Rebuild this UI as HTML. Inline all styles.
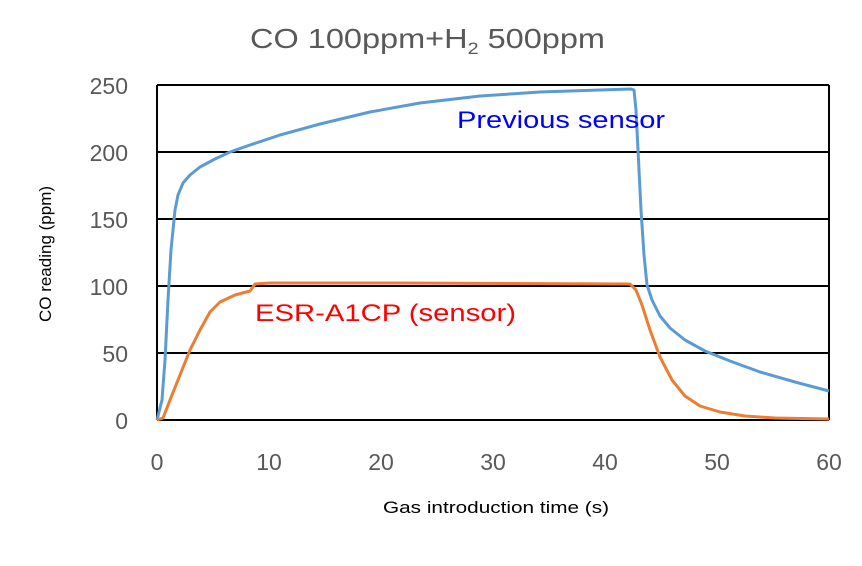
<!DOCTYPE html>
<html><head><style>body{margin:0;background:#fff}</style></head><body>
<svg width="862" height="561" xmlns="http://www.w3.org/2000/svg" font-family="Liberation Sans, sans-serif">
<text x="250" y="48" font-size="28" fill="#595959" textLength="355" lengthAdjust="spacingAndGlyphs">CO 100ppm+H<tspan font-size="17" dy="6">2</tspan><tspan dy="-6"> 500ppm</tspan></text>
<g stroke="#000" stroke-width="2">
<line x1="157" y1="85" x2="829" y2="85"/><line x1="157" y1="152" x2="829" y2="152"/>
<line x1="157" y1="219" x2="829" y2="219"/><line x1="157" y1="286" x2="829" y2="286"/>
<line x1="157" y1="353" x2="829" y2="353"/><line x1="157" y1="420" x2="829" y2="420"/>
<line x1="157" y1="85" x2="157" y2="420"/><line x1="829" y1="85" x2="829" y2="420"/>
</g>
<g font-size="23" fill="#595959" text-anchor="end">
<text x="128" y="94">250</text><text x="128" y="161">200</text><text x="128" y="228">150</text>
<text x="128" y="295">100</text><text x="128" y="362">50</text><text x="128" y="429">0</text>
</g>
<g font-size="23" fill="#595959" text-anchor="middle">
<text x="157" y="470">0</text><text x="269" y="470">10</text><text x="381" y="470">20</text>
<text x="493" y="470">30</text><text x="605" y="470">40</text><text x="717" y="470">50</text><text x="829" y="470">60</text>
</g>
<text x="383" y="513" font-size="17" textLength="226" lengthAdjust="spacingAndGlyphs">Gas introduction time (s)</text>
<text transform="translate(51,254) rotate(-90)" font-size="17" text-anchor="middle">CO reading (ppm)</text>
<polyline fill="none" stroke="#5B9BD5" stroke-width="3" stroke-linejoin="round" points="157,420 162,400 165,360 168,300 171,250 175,210 178,195 183,183 190,175 200,167 215,159 230,152 250,145 280,135 320,124 370,112 420,103 480,96 540,92 600,90 631,89 634,90 636,110 638,150 641,210 644,255 647,285 652,300 660,316 670,328 685,340 705,351 730,361 760,372 795,382 829,391"/>
<polyline fill="none" stroke="#ED7D31" stroke-width="3" stroke-linejoin="round" points="157,420 163,418 170,400 180,375 190,350 200,330 210,312 220,302 235,295 250,291 255,284 270,283 400,283 630,284 636,290 642,305 650,330 660,357 672,380 685,396 700,406 720,412 745,416 775,418 829,419"/>
<text x="457" y="128" font-size="24" fill="#0000FF" textLength="208" lengthAdjust="spacingAndGlyphs">Previous sensor</text>
<text x="255" y="321" font-size="24" fill="#FF0000" textLength="261" lengthAdjust="spacingAndGlyphs">ESR-A1CP (sensor)</text>
</svg>
</body></html>
